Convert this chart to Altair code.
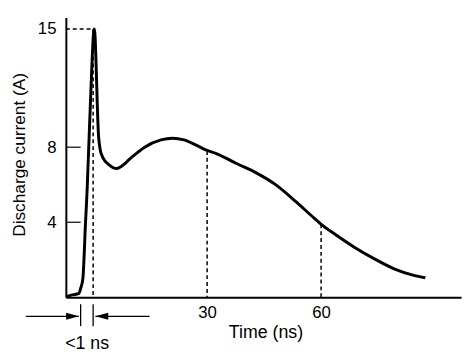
import altair as alt
import pandas as pd

# ---- data ----
time_ns = [-7.18, -5.47, -3.73, -3.29, -2.70, -2.00, -1.58, -0.70, 0.30, 1.45, 1.89,
           2.31, 3.00, 4.04, 6.19, 8.37, 9.23, 11.82, 13.56, 17.86, 20.89, 23.92,
           27.37, 29.96, 32.56, 37.74, 42.93, 48.11, 53.29, 57.62, 60.03, 63.66,
           68.84, 74.03, 79.21, 84.40, 87.43]
current_a = [0.04, 0.13, 0.21, 0.47, 1.00, 3.99, 5.72, 10.72, 15.0, 8.58, 7.83,
             7.56, 7.30, 7.09, 6.86, 7.13, 7.30, 7.74, 8.00, 8.43, 8.53, 8.43,
             8.09, 7.83, 7.65, 7.13, 6.63, 5.99, 5.11, 4.32, 3.89, 3.36,
             2.66, 2.05, 1.52, 1.17, 1.04]

x_tick_values = [30, 60]
y_tick_values = [4, 8, 15]
y_inner_ticks = [4, 8]

guide_x = [0, 30, 60]          # dashed vertical guides
guide_top = [15, 7.8, 3.89]    # where each guide meets the curve
peak_value = [15]

rise_bars = [-3.29, 0.0]       # the two marker bars of the "<1 ns" annotation
shaft_start = [-17.73, 14.85]
shaft_end = [-3.73, 0.6]
rise_label = ["<1 ns"]
rise_label_x = [-1.58]

x_min, x_max = -7.18, 96.84
y_breaks = [0, 8, 15.68]
y_pixels = [284, 131.7, 0]

FONT = "Liberation Sans"

xs = alt.Scale(domain=[x_min, x_max], nice=False, zero=False)
ys = alt.Scale(domain=y_breaks, range=y_pixels, nice=False, zero=False)

x_axis = alt.Axis(values=x_tick_values, ticks=False, grid=False, domainColor="black",
                  domainWidth=2, labelFontSize=17, labelPadding=7, labelColor="black",
                  title="Time (ns)", titleFontSize=18, titleFontWeight="normal",
                  titleColor="black", titleX=202.5, titleY=41,
                  titleBaseline="alphabetic")
y_axis = alt.Axis(values=y_tick_values, ticks=False, grid=False, domainColor="black",
                  domainWidth=2, labelFontSize=17, labelPadding=10, labelColor="black",
                  title="Discharge current (A)", titleFontSize=17.5,
                  titleFontWeight="normal", titleColor="black", titleX=-38,
                  titleY=139)


def X(f):
    return alt.X(f, type="quantitative", scale=xs, axis=x_axis)


def Y(f):
    return alt.Y(f, type="quantitative", scale=ys, axis=y_axis)


curve = pd.DataFrame({"t": time_ns, "i": current_a})
line = alt.Chart(curve).mark_line(color="black", strokeWidth=3,
                                  interpolate="monotone").encode(x=X("t"), y=Y("i"))

guides = pd.DataFrame({"t": guide_x, "i": guide_top, "i0": [0, 0, 0]})
vguide = alt.Chart(guides).mark_rule(color="black", strokeWidth=1.5,
                                     strokeDash=[4, 3]).encode(
    x=X("t"), y=Y("i"), y2="i0")

hg = pd.DataFrame({"t": [x_min], "t2": [0], "i": peak_value})
hguide = alt.Chart(hg).mark_rule(color="black", strokeWidth=1.5,
                                 strokeDash=[4, 3]).encode(x=X("t"), x2="t2", y=Y("i"))

it = pd.DataFrame({"i": y_inner_ticks})
inner_ticks = alt.Chart(it).mark_rule(color="black", strokeWidth=1.2).encode(
    y=Y("i"), x=alt.value(0), x2=alt.value(15))

bars = pd.DataFrame({"t": rise_bars})
bar_marks = alt.Chart(bars).mark_rule(color="black", strokeWidth=1.3).encode(
    x=X("t"), y=alt.value(291), y2=alt.value(313.3))

shafts = pd.DataFrame({"t": shaft_start, "t2": shaft_end})
shaft_marks = alt.Chart(shafts).mark_rule(color="black", strokeWidth=1.3).encode(
    x=X("t"), x2="t2", y=alt.value(303.3))

head_r = alt.Chart(pd.DataFrame({"t": [shaft_end[0]]})).mark_point(
    shape="M -2 -0.55 L 0 0 L -2 0.55 Z", filled=True, color="black", size=169,
    opacity=1).encode(x=X("t"), y=alt.value(303.3))
head_l = alt.Chart(pd.DataFrame({"t": [shaft_end[1]]})).mark_point(
    shape="M 2 -0.55 L 0 0 L 2 0.55 Z", filled=True, color="black", size=169,
    opacity=1).encode(x=X("t"), y=alt.value(303.3))

label = alt.Chart(pd.DataFrame({"t": rise_label_x, "txt": rise_label})).mark_text(
    fontSize=18, font=FONT, color="black", baseline="middle", align="center").encode(
    x=X("t"), y=alt.value(331), text="txt:N")

chart = alt.layer(line, vguide, hguide, inner_ticks, bar_marks, shaft_marks,
                  head_r, head_l, label).properties(
    width=401, height=284,
    autosize=alt.AutoSizeParams(type="none"),
    padding={"left": 58.7, "top": 7, "right": 5, "bottom": 56},
    background="white",
).configure_view(stroke=None).configure_axis(labelFont=FONT, titleFont=FONT)

chart.save("out.html", embed_options={"renderer": "svg", "actions": False})
